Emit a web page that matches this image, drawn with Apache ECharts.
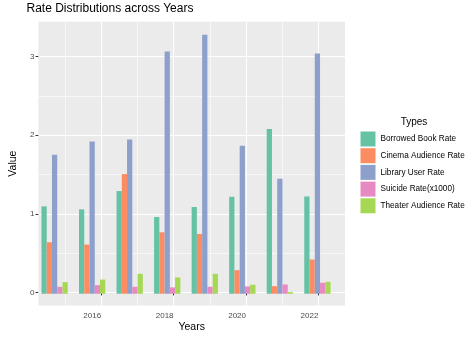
<!DOCTYPE html>
<html><head><meta charset="utf-8">
<script src="https://cdn.jsdelivr.net/npm/echarts@6/dist/echarts.min.js"></script>
<style>html,body{margin:0;padding:0;background:#fff}#c{width:474px;height:338px}</style>
</head><body><div id="c"></div>
<script>
const years = [2015, 2016, 2017, 2018, 2019, 2020, 2021, 2022];
const seriesNames = ['Borrowed Book Rate', 'Cinema Audience Rate', 'Library User Rate', 'Suicide Rate(x1000)', 'Theater Audience Rate'];
const borrowedBook = [1.106, 1.068, 1.30, 0.972, 1.098, 1.228, 2.087, 1.232];
const cinemaAudience = [0.652, 0.622, 1.515, 0.778, 0.757, 0.298, 0.096, 0.433];
const libraryUser = [1.759, 1.927, 1.952, 3.068, 3.278, 1.872, 1.456, 3.043];
const suicide = [0.088, 0.109, 0.088, 0.080, 0.088, 0.092, 0.117, 0.139];
const theaterAudience = [0.147, 0.180, 0.252, 0.206, 0.252, 0.114, 0.020, 0.151];
const xTickLabels = [2016, 2018, 2020, 2022];
const xMinorLines = [2015, 2017, 2019, 2021];
const yTickLabels = [0, 1, 2, 3];
const yMinorLines = [0.5, 1.5, 2.5];
const colors = ['#66C2A5', '#FC8D62', '#8DA0CB', '#E78AC3', '#A6D854'];
const allValues = [borrowedBook, cinemaAudience, libraryUser, suicide, theaterAudience];

const FONT = 'Liberation Sans, Arial, sans-serif';
const chart = echarts.init(document.getElementById('c'), null, {renderer: 'canvas'});
const xMin = 2014.265, xMax = 2022.735, yMin = -0.164, yMax = 3.444;
const panelLeft = 27, panelRight = 345, panelTop = 21.7, panelBottom = 306.7, W = 474, H = 338;
const pxPerYear = (panelRight - panelLeft) / (xMax - xMin);
const catLeft = panelLeft + (years[0] - 0.5 - xMin) * pxPerYear;
const catRight = panelLeft + (years[years.length - 1] + 0.5 - xMin) * pxPerYear;

const hiddenAxis = {axisLine: {show: false}, axisTick: {show: false}, axisLabel: {show: false}, splitLine: {show: false}};

chart.setOption({
  animation: false,
  color: colors,
  title: [
    {text: 'Rate Distributions across Years', left: 26.5, top: 3, padding: 0,
     textStyle: {fontFamily: FONT, fontSize: 12, fontWeight: 'normal', color: '#000'}},
    {text: 'Types', left: 414, top: 117, textAlign: 'center', padding: 0,
     textStyle: {fontFamily: FONT, fontSize: 10, fontWeight: 'normal', color: '#000'}}
  ],
  legend: {
    orient: 'vertical', left: 360.5, top: 131.5, padding: 0,
    itemWidth: 15, itemHeight: 15, itemGap: 1.7, icon: 'rect',
    textStyle: {fontFamily: FONT, fontSize: 8.2, color: '#000'},
    data: seriesNames
  },
  grid: [
    {left: panelLeft, right: W - panelRight, top: panelTop, bottom: H - panelBottom, show: true, backgroundColor: '#EBEBEB', borderWidth: 0},
    {left: catLeft, right: W - catRight, top: panelTop, bottom: H - panelBottom, show: false}
  ],
  xAxis: [
    {type: 'value', min: xMin, max: xMax, gridIndex: 0, position: 'bottom',
     name: 'Years', nameLocation: 'middle', nameGap: 16.5,
     nameTextStyle: {fontFamily: FONT, fontSize: 10.5, color: '#000'},
     axisLine: {show: false},
     axisTick: {show: true, length: 2.8, customValues: xTickLabels, lineStyle: {color: '#333', width: 1}},
     axisLabel: {show: false, customValues: xTickLabels},
     splitLine: {show: true, lineStyle: {color: '#fff', width: 1.07}}},
    {type: 'value', min: xMin, max: xMax, gridIndex: 0, position: 'top',
     axisLine: {show: false},
     axisTick: {show: true, length: 0, customValues: xMinorLines, lineStyle: {color: 'rgba(0,0,0,0)'}},
     axisLabel: {show: false, customValues: xMinorLines},
     splitLine: {show: true, lineStyle: {color: '#fff', width: 0.6}}},
    Object.assign({type: 'category', gridIndex: 1, data: years, boundaryGap: true}, hiddenAxis)
  ],
  yAxis: [
    {type: 'value', min: yMin, max: yMax, gridIndex: 0,
     name: 'Value', nameLocation: 'middle', nameGap: 11, nameRotate: 90,
     nameTextStyle: {fontFamily: FONT, fontSize: 10.5, color: '#000'},
     axisLine: {show: false},
     axisTick: {show: true, length: 2.8, customValues: yTickLabels, lineStyle: {color: '#333', width: 1}},
     axisLabel: {customValues: yTickLabels, margin: 4, fontFamily: FONT, fontSize: 8, color: '#4D4D4D'},
     splitLine: {show: true, lineStyle: {color: '#fff', width: 1.07}}},
    {type: 'value', min: yMin, max: yMax, gridIndex: 0, position: 'right',
     axisLine: {show: false},
     axisTick: {show: true, length: 0, customValues: yMinorLines, lineStyle: {color: 'rgba(0,0,0,0)'}},
     axisLabel: {show: false, customValues: yMinorLines},
     splitLine: {show: true, lineStyle: {color: '#fff', width: 0.6}}},
    Object.assign({type: 'value', min: yMin, max: yMax, gridIndex: 1}, hiddenAxis)
  ],
  series: seriesNames.map((name, i) => ({
    name: name, type: 'bar', xAxisIndex: 2, yAxisIndex: 2,
    barGap: '0%', barCategoryGap: '30%',
    itemStyle: {color: colors[i]},
    data: allValues[i]
  }))
});

// x tick labels are right-aligned to their ticks (hjust = 1), positioned through the axis scale
chart.setOption({
  graphic: xTickLabels.map(v => ({
    type: 'text', silent: true,
    x: chart.convertToPixel({xAxisIndex: 0}, v),
    y: panelBottom + 5,
    style: {text: String(v), textAlign: 'right', textVerticalAlign: 'top',
            font: '8px ' + FONT, fill: '#4D4D4D'}
  }))
});
</script></body></html>
